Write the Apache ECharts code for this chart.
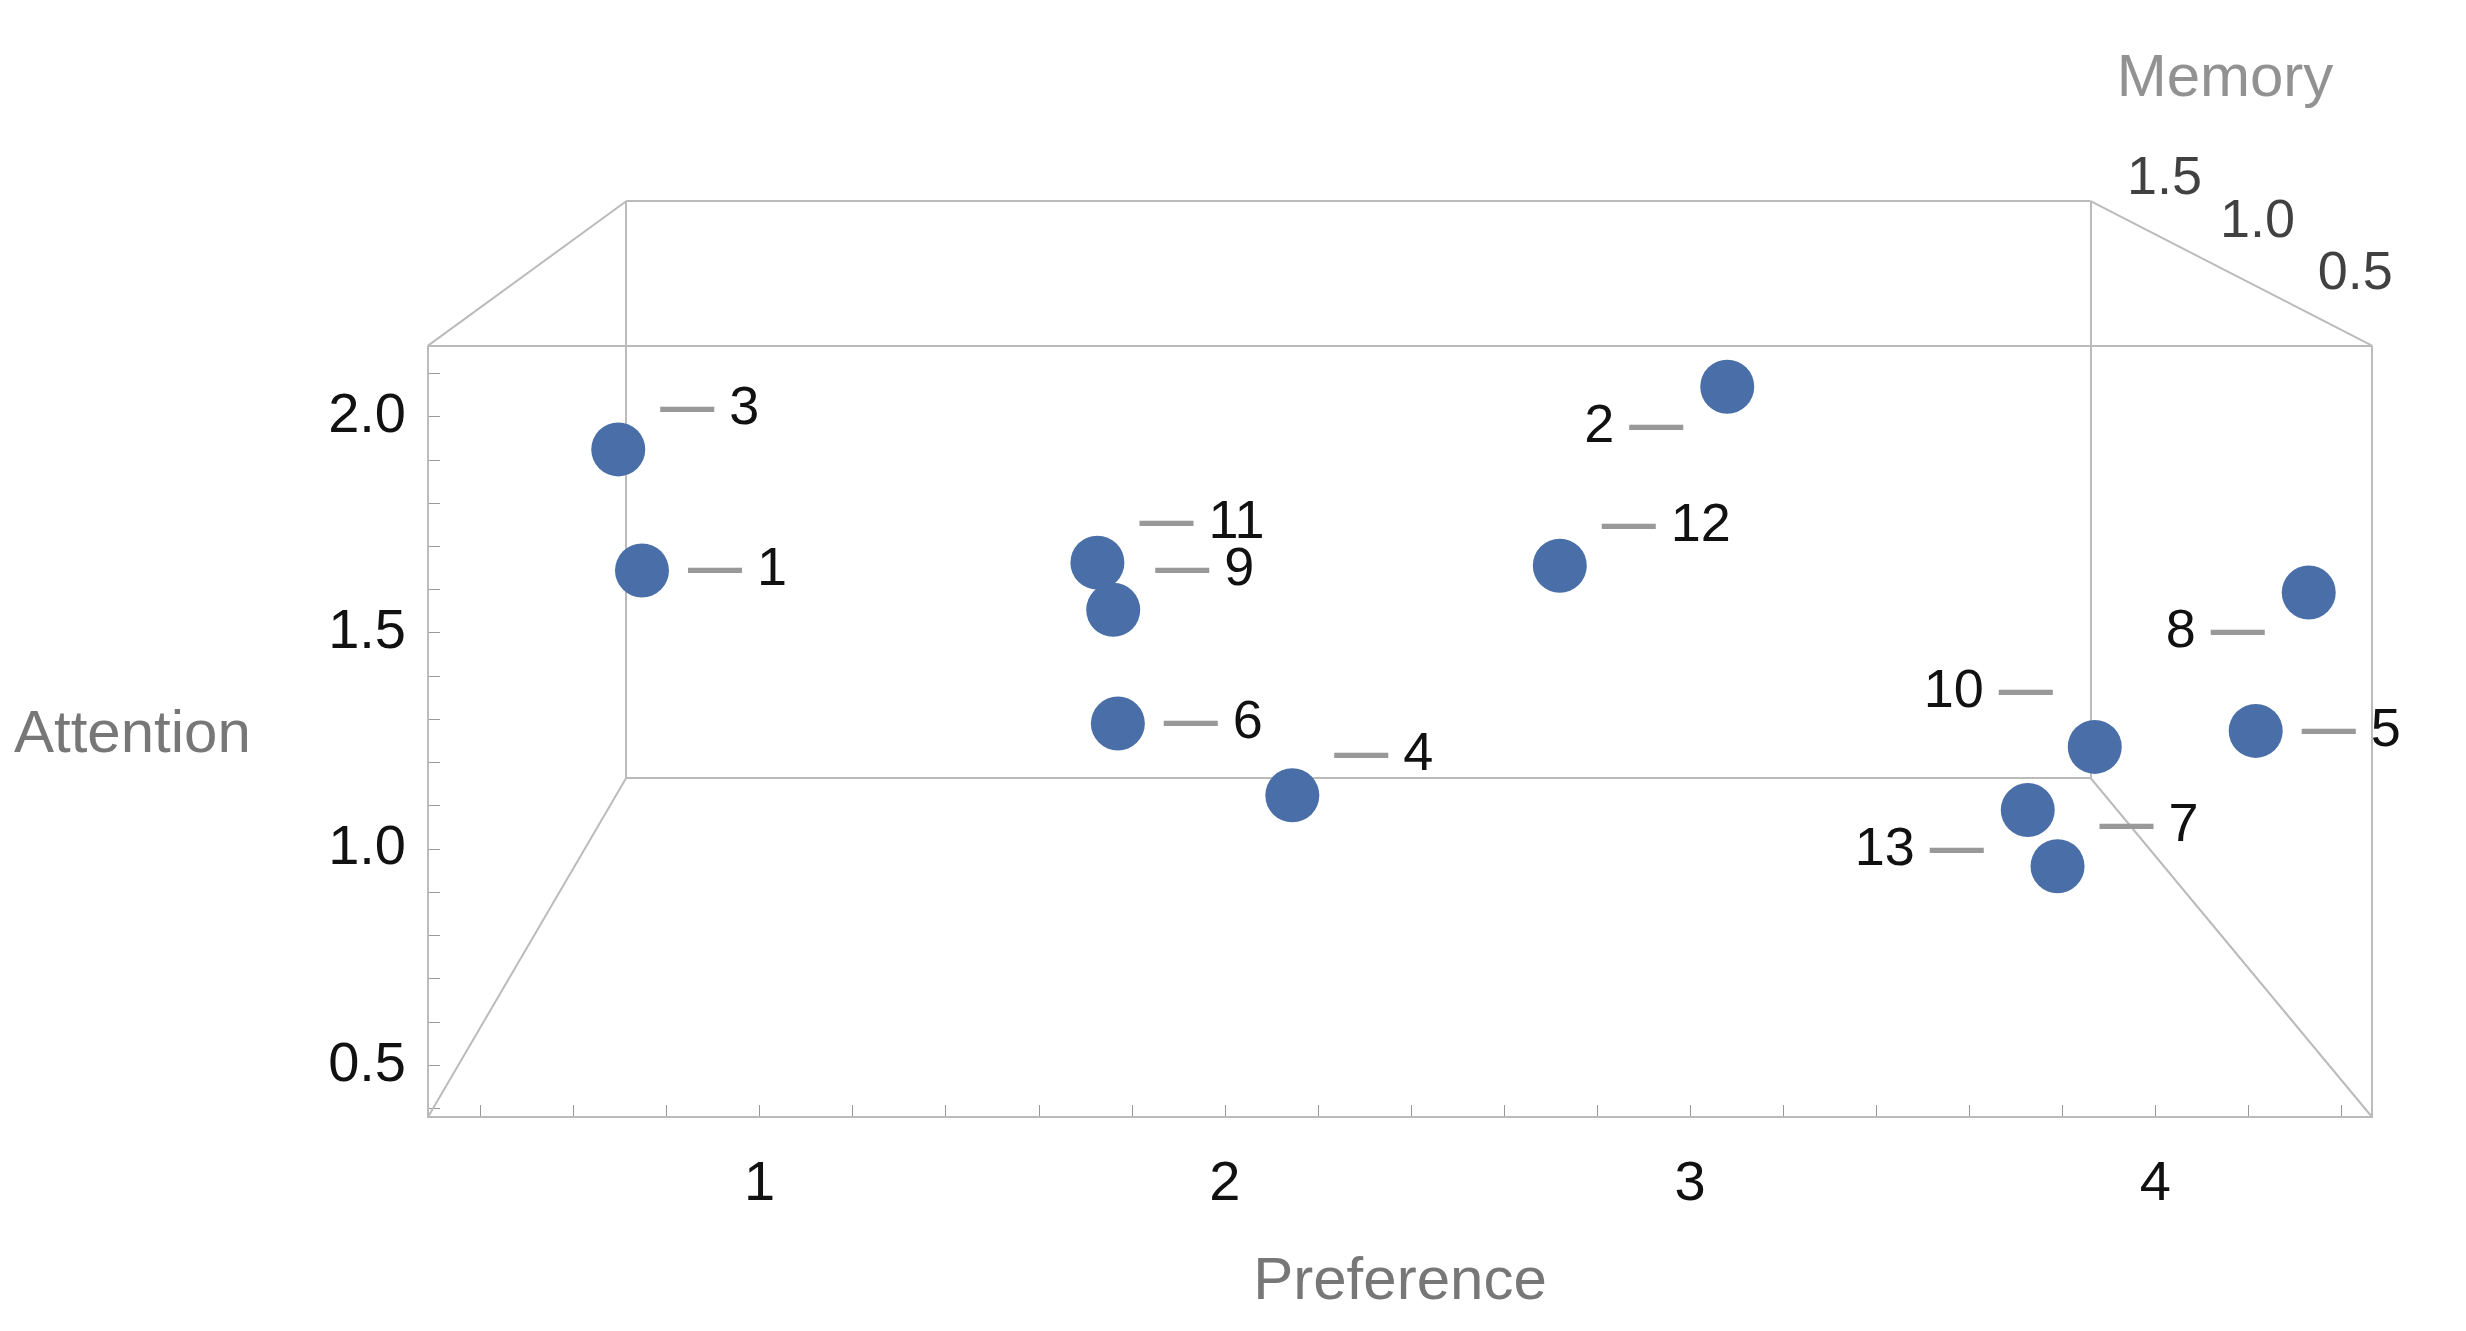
<!DOCTYPE html><html><head><meta charset="utf-8">
<script src="https://cdn.jsdelivr.net/npm/echarts@6/dist/echarts.min.js"></script>
<style>html,body{margin:0;background:#fff}#c{width:2466px;height:1331px}</style></head><body><div id="c"></div>
<script>
// projected positions (front-face coordinates) of the 3D points
const ids = ['1','2','3','4','5','6','7','8','9','10','11','12','13'];
const preference = [0.747,3.08,0.696,2.145,4.216,1.77,3.79,4.33,1.76,3.87,1.726,2.72,3.726];
const attention  = [1.644,2.069,1.924,1.124,1.273,1.29,0.96,1.593,1.553,1.236,1.662,1.655,1.09];
const labelSide  = ['r','dl','ur','ur','r','r','ur','dl','ur','ul','ur','ur','dl'];
const yTicks = [0.5,1.0,1.5,2.0];
const memoryTicks = ['1.5','1.0','0.5'];
const memoryTickPos = [[4.02,2.55],[4.22,2.45],[4.43,2.33]];
const F = [0.287,4.466,0.38,2.164], B = [0.713,3.861,1.164,2.498];

const edges = [
 [[F[0],F[2]],[F[1],F[2]]],[[F[0],F[2]],[F[0],F[3]]],[[F[0],F[3]],[F[1],F[3]]],[[F[1],F[2]],[F[1],F[3]]],
 [[B[0],B[2]],[B[1],B[2]]],[[B[0],B[2]],[B[0],B[3]]],[[B[0],B[3]],[B[1],B[3]]],[[B[1],B[2]],[B[1],B[3]]],
 [[F[0],F[2]],[B[0],B[2]]],[[F[1],F[2]],[B[1],B[2]]],[[F[0],F[3]],[B[0],B[3]]],[[F[1],F[3]],[B[1],B[3]]]
];
const fmt = {r:i=>'{d|—} '+i, ur:i=>'{d|—} '+i, ul:i=>i+' {d|—}', dl:i=>i+' {d|—}'};
const lab = {r:{position:'right',offset:[14,0]},
  ur:{position:'right',offset:[10,-40]}, ul:{position:'left',offset:[-10,-55]}, dl:{position:'left',offset:[-12,40]}};
const pts = ids.map((id,i)=>({value:[preference[i],attention[i]],
  label:Object.assign({show:true,formatter:fmt[labelSide[i]](id),color:'#111',fontSize:54,fontFamily:'Liberation Sans',
   rich:{d:{color:'#999',fontSize:54,fontWeight:'bold'}}},lab[labelSide[i]])}));
const minorY=[];for(let v=0.4;v<=2.16;v+=0.1)minorY.push(+v.toFixed(2));
const minorX=[];for(let v=0.4;v<=4.45;v+=0.2)minorX.push(+v.toFixed(2));
const chart = echarts.init(document.getElementById('c'));
chart.setOption({
 animation:false,
 grid:{left:428,right:94,top:49,bottom:214},
 xAxis:{type:'value',min:F[0],max:F[1],name:'Preference',nameLocation:'middle',nameGap:135,
  nameTextStyle:{color:'#777',fontSize:60,fontFamily:'Liberation Sans'},
  axisLine:{lineStyle:{color:'#999',width:2}},splitLine:{show:false},
  axisTick:{customValues:minorX,length:12,inside:true,lineStyle:{color:'#999'}},
  axisLabel:{customValues:[1,2,3,4],color:'#111',fontSize:56,margin:40,fontFamily:'Liberation Sans'}},
 yAxis:{type:'value',min:F[2],max:2.85,
  axisLine:{show:false},splitLine:{show:false},
  axisTick:{show:true,customValues:minorY,length:12,inside:true,lineStyle:{color:'#999'}},
  axisLabel:{customValues:yTicks,formatter:v=>v.toFixed(1),color:'#111',fontSize:56,margin:22,fontFamily:'Liberation Sans'}},
 graphic:[{type:'text',left:14,top:705,style:{text:'Attention',fill:'#777',fontSize:60,fontFamily:'Liberation Sans'}}],
 series:[
  {type:'lines',coordinateSystem:'cartesian2d',silent:true,data:edges.map(c=>({coords:c})),
   lineStyle:{color:'#bbb',width:2,opacity:1}},
  {type:'scatter',silent:true,symbolSize:0,data:[
    ...memoryTicks.map((t,i)=>({value:memoryTickPos[i],label:{show:true,formatter:t,position:'inside',color:'#111',fontSize:54,fontFamily:'Liberation Sans'}})),
    {value:[4.15,2.78],label:{show:true,formatter:'Memory',position:'inside',color:'#777',fontSize:60,fontFamily:'Liberation Sans'}}]},
  {type:'scatter',symbolSize:54,itemStyle:{color:'#4a6fa8',opacity:1},data:pts}
 ]
});
</script></body></html>
